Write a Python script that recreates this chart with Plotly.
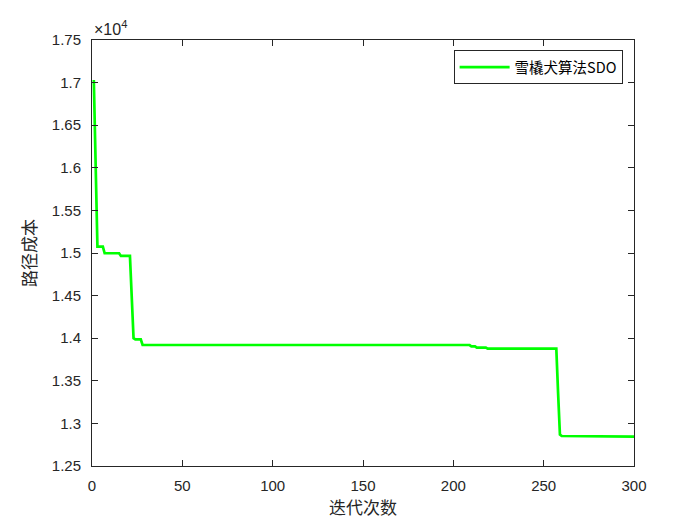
import plotly.graph_objects as go

# Convergence curve (iteration, best path cost)
iterations = [1, 2, 3, 6, 7, 15, 16, 21, 22, 23, 24, 27, 28,
              209, 210, 212, 213, 218, 219, 257, 258, 259, 260, 269, 270, 300]
path_cost = [17030, 16000, 15075, 15075, 14997, 14997, 14966, 14966, 14450, 14000, 13987, 13987, 13920,
             13920, 13905, 13905, 13890, 13890, 13878, 13878, 13350, 12870, 12852, 12852, 12845, 12845]

series_name = "雪橇犬算法SDO"
x_ticks = [0, 50, 100, 150, 200, 250, 300]
y_ticks = [12500, 13000, 13500, 14000, 14500, 15000, 15500, 16000, 16500, 17000, 17500]
y_tick_labels = ["1.25", "1.3", "1.35", "1.4", "1.45", "1.5", "1.55", "1.6", "1.65", "1.7", "1.75"]
x_title = "迭代次数"
y_title = "路径成本"

axis_color = "#262626"
tick_font = dict(family="Liberation Sans, Arial, sans-serif", size=15, color=axis_color)
cjk_font = "Noto Sans CJK SC, sans-serif"

fig = go.Figure()
fig.add_trace(go.Scatter(
    x=iterations, y=path_cost, mode="lines", name=series_name,
    line=dict(color="#00FF00", width=2.7),
))

fig.update_layout(
    width=700, height=525,
    margin=dict(l=84, r=74, t=32, b=67),
    paper_bgcolor="white", plot_bgcolor="white",
    showlegend=True,
    legend=dict(
        x=0.979, y=0.976, xanchor="right", yanchor="top",
        bgcolor="white", bordercolor=axis_color, borderwidth=1,
        font=dict(family=cjk_font, size=14.5, color="#000000"),
        itemwidth=50, tracegroupgap=0,
    ),
    xaxis=dict(
        range=[0, 300], tickvals=x_ticks, ticks="inside", ticklen=6, tickcolor=axis_color,
        showline=True, linecolor=axis_color, linewidth=1, mirror="ticks",
        showgrid=False, zeroline=False, tickfont=tick_font, ticklabelstandoff=6,
        title=dict(text=x_title, font=dict(family=cjk_font, size=17, color=axis_color), standoff=9),
    ),
    yaxis=dict(
        range=[12500, 17500], tickvals=y_ticks, ticktext=y_tick_labels,
        ticks="inside", ticklen=6, tickcolor=axis_color,
        showline=True, linecolor=axis_color, linewidth=1, mirror="ticks",
        showgrid=False, zeroline=False, tickfont=tick_font, ticklabelstandoff=7,
        title=dict(text=y_title, font=dict(family=cjk_font, size=17, color=axis_color), standoff=10),
    ),
    annotations=[dict(
        text="×10<sup>4</sup>", xref="paper", yref="paper", x=0, y=1.0,
        xanchor="left", yanchor="bottom", showarrow=False,
        font=dict(family="Liberation Sans, Arial, sans-serif", size=16, color=axis_color),
    )],
)

fig.write_html("out.html")
